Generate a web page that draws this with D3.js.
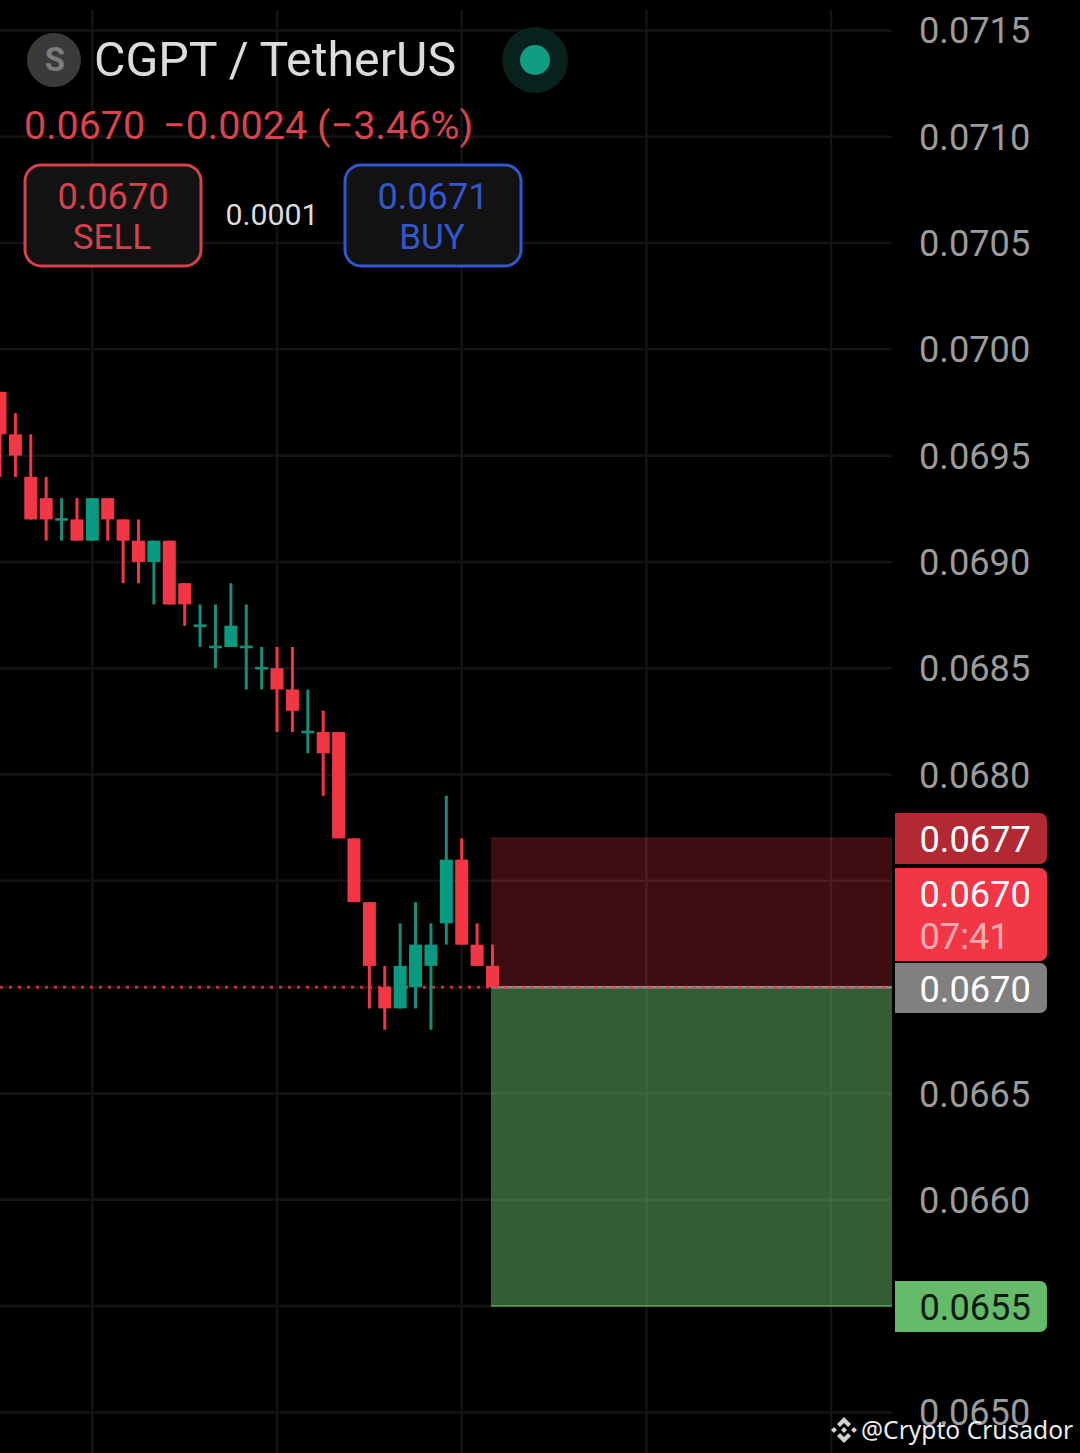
<!DOCTYPE html>
<html><head><meta charset="utf-8">
<script src="https://cdn.jsdelivr.net/npm/d3@7/dist/d3.min.js"></script>
<style>html,body{margin:0;padding:0;background:#000}svg{display:block}text{font-family:Roboto,"Noto Sans",sans-serif}</style>
</head><body><svg id="c" width="1080" height="1453"></svg>
<script>
const opens =[.0698,.0696,.0694,.0693,.0692,.0692,.0691,.0693,.0692,.0691,.0690,.0691,.0689,.0687,.0686,.0686,.0686,.0685,.0685,.0684,.0682,.0682,.0682,.0677,.0674,.0670,.0669,.0670,.0671,.0673,.0676,.0672,.0671];
const highs =[.0698,.0697,.0696,.0694,.0693,.0693,.0693,.0693,.0692,.0692,.0691,.0691,.0689,.0688,.0688,.0689,.0688,.0686,.0686,.0686,.0684,.0683,.0682,.0677,.0674,.0671,.0673,.0674,.0673,.0679,.0677,.0673,.0672];
const lows  =[.0694,.0694,.0692,.0691,.0691,.0691,.0691,.0691,.0689,.0689,.0688,.0688,.0687,.0686,.0685,.0686,.0684,.0684,.0682,.0682,.0681,.0679,.0677,.0674,.0669,.0668,.0669,.0669,.0668,.0672,.0672,.0671,.0670];
const closes=[.0696,.0695,.0692,.0692,.0692,.0691,.0693,.0692,.0691,.0690,.0691,.0688,.0688,.0687,.0686,.0687,.0686,.0685,.0684,.0683,.0682,.0681,.0677,.0674,.0671,.0669,.0671,.0672,.0672,.0676,.0672,.0671,.0670];
const gridTicks=[.0715,.0710,.0705,.0700,.0695,.0690,.0685,.0680,.0675,.0670,.0665,.0660,.0655,.0650];
const priceTicks=[.0715,.0710,.0705,.0700,.0695,.0690,.0685,.0680,.0665,.0660,.0650];
const timeTicks=[6,18,30,42,54];
const entry=.0670, stop=.0677, target=.0655;

const RED="#f23645", GREEN="#089981", WICK_GREEN="#1a8d78";
const svg=d3.select("#c");
const y=d3.scaleLinear().domain([.0715,.0650]).range([30.4,1412.4]);
const x=d3.scaleLinear().domain([0,32]).range([0,492.5]);
const plotR=892, bodyW=13, wickW=3;
const f4=d3.format(".4f");

// grid
svg.append("g").selectAll("line").data(gridTicks).join("line")
  .attr("x1",0).attr("x2",plotR).attr("y1",d=>y(d)).attr("y2",d=>y(d))
  .attr("stroke","#141414").attr("stroke-width",2.5);
svg.append("g").selectAll("line").data(timeTicks).join("line")
  .attr("x1",d=>x(d)).attr("x2",d=>x(d)).attr("y1",10).attr("y2",1453)
  .attr("stroke","#141414").attr("stroke-width",2.5);

// position zones
const zoneL=491;
svg.append("rect").attr("x",zoneL).attr("width",plotR-zoneL).attr("y",y(stop)).attr("height",y(entry)-y(stop)).attr("fill","#f23645").attr("fill-opacity",.25);
svg.append("rect").attr("x",zoneL).attr("width",plotR-zoneL).attr("y",y(entry)).attr("height",y(target)-y(entry)).attr("fill","#66bb6a").attr("fill-opacity",.5);
svg.append("line").attr("x1",zoneL).attr("x2",plotR).attr("y1",y(target)).attr("y2",y(target)).attr("stroke","#66bb6a").attr("stroke-opacity",.8).attr("stroke-width",1.5);
svg.append("line").attr("x1",zoneL).attr("x2",plotR).attr("y1",y(entry)).attr("y2",y(entry)).attr("stroke","#8a8a8a").attr("stroke-width",2.5);
svg.append("line").attr("x1",zoneL).attr("x2",plotR).attr("y1",y(stop)).attr("y2",y(stop)).attr("stroke","#f23645").attr("stroke-opacity",.2).attr("stroke-width",1.5);

// last price dotted line
svg.append("line").attr("x1",0).attr("x2",plotR).attr("y1",y(entry)).attr("y2",y(entry))
  .attr("stroke",RED).attr("stroke-opacity",.8).attr("stroke-width",3).attr("stroke-dasharray","3 6");

// candles
const candles=d3.range(opens.length).map(i=>({i,o:opens[i],h:highs[i],l:lows[i],c:closes[i],col:closes[i]<opens[i]?RED:GREEN}));
const cg=svg.append("g").selectAll("g").data(candles).join("g");
cg.append("rect").attr("x",d=>x(d.i)-wickW/2).attr("width",wickW).attr("y",d=>y(d.h)).attr("height",d=>y(d.l)-y(d.h)).attr("fill",d=>d.col===RED?RED:WICK_GREEN);
cg.append("rect").attr("x",d=>x(d.i)-bodyW/2).attr("width",bodyW)
  .attr("y",d=>y(Math.max(d.o,d.c))-(d.o===d.c?1.3:0)).attr("height",d=>Math.max(y(Math.min(d.o,d.c))-y(Math.max(d.o,d.c)),2.6))
  .attr("fill",d=>d.o===d.c?WICK_GREEN:d.col);

// price axis
const ax=svg.append("g").attr("transform","translate(919,1)").call(d3.axisRight(y).tickValues(priceTicks).tickFormat(f4).tickSize(0).tickPadding(0));
ax.select(".domain").remove();
ax.selectAll("text").attr("fill","#9b9b9b").style("font-size","36.2px").style("font-family","Roboto");

// price labels
const labels=[
 {top:813,h:51,fill:"#b22833",price:.0677,col:"#fff"},
 {top:868,h:93,fill:"#f23645",price:.0670,col:"#fff",extra:"07:41"},
 {top:963,h:50,fill:"#808080",price:.0670,col:"#fff"},
 {top:1281,h:51,fill:"#66bb6a",price:.0655,col:"#0c1a0e"}
];
labels.forEach(l=>{
  svg.append("path").attr("fill",l.fill).attr("d",`M895,${l.top}H1040a7,7 0 0 1 7,7V${l.top+l.h-7}a7,7 0 0 1 -7,7H895Z`);
  svg.append("text").attr("x",919.5).attr("y",l.extra?907:l.top+38.5).attr("fill",l.col).style("font-size","36.2px").text(f4(l.price));
  if(l.extra) svg.append("text").attr("x",919.5).attr("y",949).attr("fill","#ffffff").attr("fill-opacity",.6).style("font-size","36.2px").text(l.extra);
});

// header
svg.append("circle").attr("cx",54).attr("cy",60).attr("r",27).attr("fill","#3a3a3a");
svg.append("text").attr("x",55).attr("y",71).attr("text-anchor","middle").attr("fill","#7d7d7d").style("font-size","33px").style("font-weight",700).text("S");
svg.append("text").attr("x",94).attr("y",76).attr("fill","#dcdcdc").style("font-size","48.3px").text("CGPT / TetherUS");
svg.append("circle").attr("cx",535).attr("cy",60).attr("r",33).attr("fill","#08211d");
svg.append("circle").attr("cx",535).attr("cy",60).attr("r",15).attr("fill","#0f9d84");
svg.append("text").attr("x",24).attr("y",139).attr("fill","#d8434e").style("font-size","39.4px").text("0.0670");
svg.append("text").attr("x",163).attr("y",139).attr("fill","#d8434e").style("font-size","39.6px").text("\u22120.0024 (\u22123.46%)");

function btn(bx,w,col,price,lab){
  svg.append("rect").attr("x",bx).attr("y",165).attr("width",w).attr("height",101).attr("rx",16).attr("fill","#121212").attr("stroke",col).attr("stroke-width",3);
  svg.append("text").attr("x",bx+w/2).attr("y",209).attr("text-anchor","middle").attr("fill",col).style("font-size","36.2px").text(price);
  svg.append("text").attr("x",bx+w/2-1).attr("y",249).attr("text-anchor","middle").attr("fill",col).style("font-size","35px").text(lab);
}
btn(25,176,"#d5414c","0.0670","SELL");
btn(345,176,"#3257cf","0.0671","BUY");
svg.append("text").attr("x",272).attr("y",225).attr("text-anchor","middle").attr("fill","#dcdcdc").style("font-size","30.3px").text("0.0001");

// watermark
const wm=svg.append("g").attr("transform","translate(844,1430)").attr("fill","#d2d2d2");
wm.append("path").attr("d","M0,-13L7,-6L4,-3L0,-7L-4,-3L-7,-6Z");
wm.append("path").attr("d","M0,13L7,6L4,3L0,7L-4,3L-7,6Z");
wm.append("path").attr("d","M-13,0L-10,-3L-7,0L-10,3Z");
wm.append("path").attr("d","M13,0L10,-3L7,0L10,3Z");
wm.append("path").attr("d","M0,-3L3,0L0,3L-3,0Z");
svg.append("text").attr("x",861).attr("y",1439).attr("fill","#ececec").style("font-family","'Noto Sans'").style("font-size","24.6px").text("@Crypto Crusador");
</script></body></html>
